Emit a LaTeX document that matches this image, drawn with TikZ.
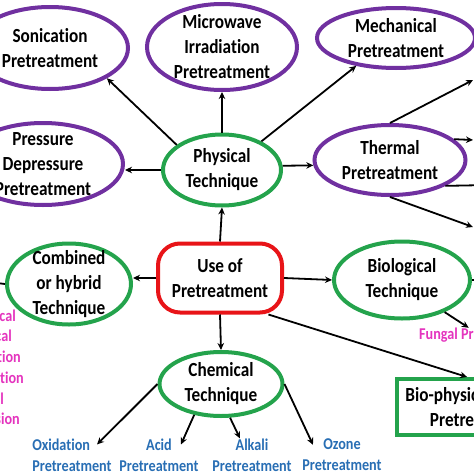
\documentclass[tikz,border=0pt]{standalone}
\usepackage{fontspec}
\setmainfont{Carlito}[FakeStretch=0.86,Ligatures=NoCommon]
\usetikzlibrary{shapes.geometric,arrows.meta}
\definecolor{ellpurple}{RGB}{112,48,160}
\definecolor{ellgreen}{RGB}{36,163,76}
\definecolor{boxred}{RGB}{232,20,24}
\definecolor{txtblue}{RGB}{40,110,180}
\definecolor{txtpink}{RGB}{228,52,190}
\begin{document}
\begin{tikzpicture}[x=1pt,y=-1pt,
		every node/.style={font=\bfseries\fontsize{20}{25}\selectfont,align=center},
		pell/.style={ellipse,draw=ellpurple,line width=4pt,inner sep=-8pt},
		gell/.style={ellipse,draw=ellgreen,line width=4pt,inner sep=-8pt},
		bluetxt/.style={text=txtblue,font=\bfseries\fontsize{16.5}{21}\selectfont,inner sep=1pt},
		pinktxt/.style={text=txtpink,font=\bfseries\fontsize{16.5}{21}\selectfont,inner sep=0pt,anchor=east,text height=11pt,text depth=3pt},
		arr/.style={line width=1.8pt,-{Stealth[length=7pt,width=6.5pt]}},
		plain/.style={line width=1.8pt}]
		\useasboundingbox (0,0) rectangle (474,474);
		\clip (0,0) rectangle (474,474);
		\node [pell,minimum width=156,minimum height=82] (sonic) at (50,48) {Sonication\\Pretreatment};
		\node [pell,minimum width=150,minimum height=86] (micro) at (222,47) {Microwave\\Irradiation\\Pretreatment};
		\node [pell,minimum width=158,minimum height=60] (mech) at (396,38) {Mechanical\\Pretreatment};
		\node [pell,minimum width=160,minimum height=82] (press) at (43,164) {Pressure\\Depressure\\Pretreatment};
		\node [gell,minimum width=118,minimum height=71] (phys) at (222,170) {Physical\\Technique};
		\node [pell,minimum width=151,minimum height=70] (therm) at (390,160) {Thermal\\Pretreatment};
		\node [draw=boxred,line width=4pt,rounded corners=22,inner sep=0pt,minimum width=124,minimum height=69] (use) at (220,278) {Use of\\Pretreatment};
		\node [gell,minimum width=124,minimum height=81] (comb) at (69,284) {Combined\\or hybrid\\Technique};
		\node [gell,minimum width=136,minimum height=77] (bio) at (402,280) {Biological\\Technique};
		\node [gell,minimum width=123,minimum height=64] (chem) at (221,384) {Chemical\\Technique};
		\node [draw=ellgreen,line width=4pt,inner sep=0pt,minimum width=162,minimum height=56] (biophys) at (478,407) {Bio-physicochemical\\Pretreatment};
		\node [bluetxt,align=left] (oxid) at (72,455) {Oxidation\\Pretreatment};
		\node [bluetxt] (acid) at (159,455) {Acid\\Pretreatment};
		\node [bluetxt] (alkali) at (252,455) {Alkali\\Pretreatment};
		\node [bluetxt] (ozone) at (342,455) {Ozone\\Pretreatment};
		\node [pinktxt,anchor=west] (fungal) at (419,335) {Fungal Pretreatment};
		\node [pinktxt] (hyb1) at (16,317) {Physico-chemical};
		\node [pinktxt] (hyb2) at (12,337) {Thermo-chemical};
		\node [pinktxt] (hyb3) at (21,358) {Wet oxidation};
		\node [pinktxt] (hyb4) at (24,379) {Organosolv extraction};
		\node [pinktxt] (hyb5) at (4,400) {Hydrothermal};
		\node [pinktxt] (hyb6) at (20,420) {Steam explosion};
		\coordinate (tr1) at (473,80);
		\coordinate (tr2) at (473,140);
		\coordinate (tr3) at (490,185);
		\coordinate (tr4) at (473,227);
		\coordinate (br) at (490,280);
		\coordinate (cl) at (-20,281);
		\draw [arr] (phys.151) to (sonic.-28);
		\draw [arr] (phys.north) to (micro.south);
		\draw [arr] (phys.west) to (phys.west -| press.east);
		\draw [arr] (phys.36) to (mech.215);
		\draw [arr] (phys.4) to (therm.184);
		\draw [arr] (therm.north) to (tr1);
		\draw [arr] (therm.18) to (tr2);
		\draw [plain] (therm.-25) to (tr3);
		\draw [arr] (therm.south) to (tr4);
		\draw [plain] (bio.east) to (br);
		\draw [arr] (bio.-37) to (fungal);
		\draw [arr] (use.north) to (phys.south);
		\draw [arr] (use.west) to (use.west -| comb.east);
		\draw [arr] (use.east) to (bio.west);
		\draw [arr] (use.south) to (chem.north);
		\draw [arr] (use.-37.6) to (biophys.110);
		\draw [plain] (comb.west) to (cl);
		\draw [arr] (chem.west) to ([xshift=25pt,yshift=-7pt]oxid.north);
		\draw [arr] (chem.-131) to ([xshift=22pt,yshift=-7pt]acid.north);
		\draw [arr] (chem.-75) to ([xshift=-12pt,yshift=-1pt]alkali.north);
		\draw [arr] (chem.east) to ([xshift=-29pt,yshift=-7pt]ozone.north);
	\end{tikzpicture}
\end{document}
